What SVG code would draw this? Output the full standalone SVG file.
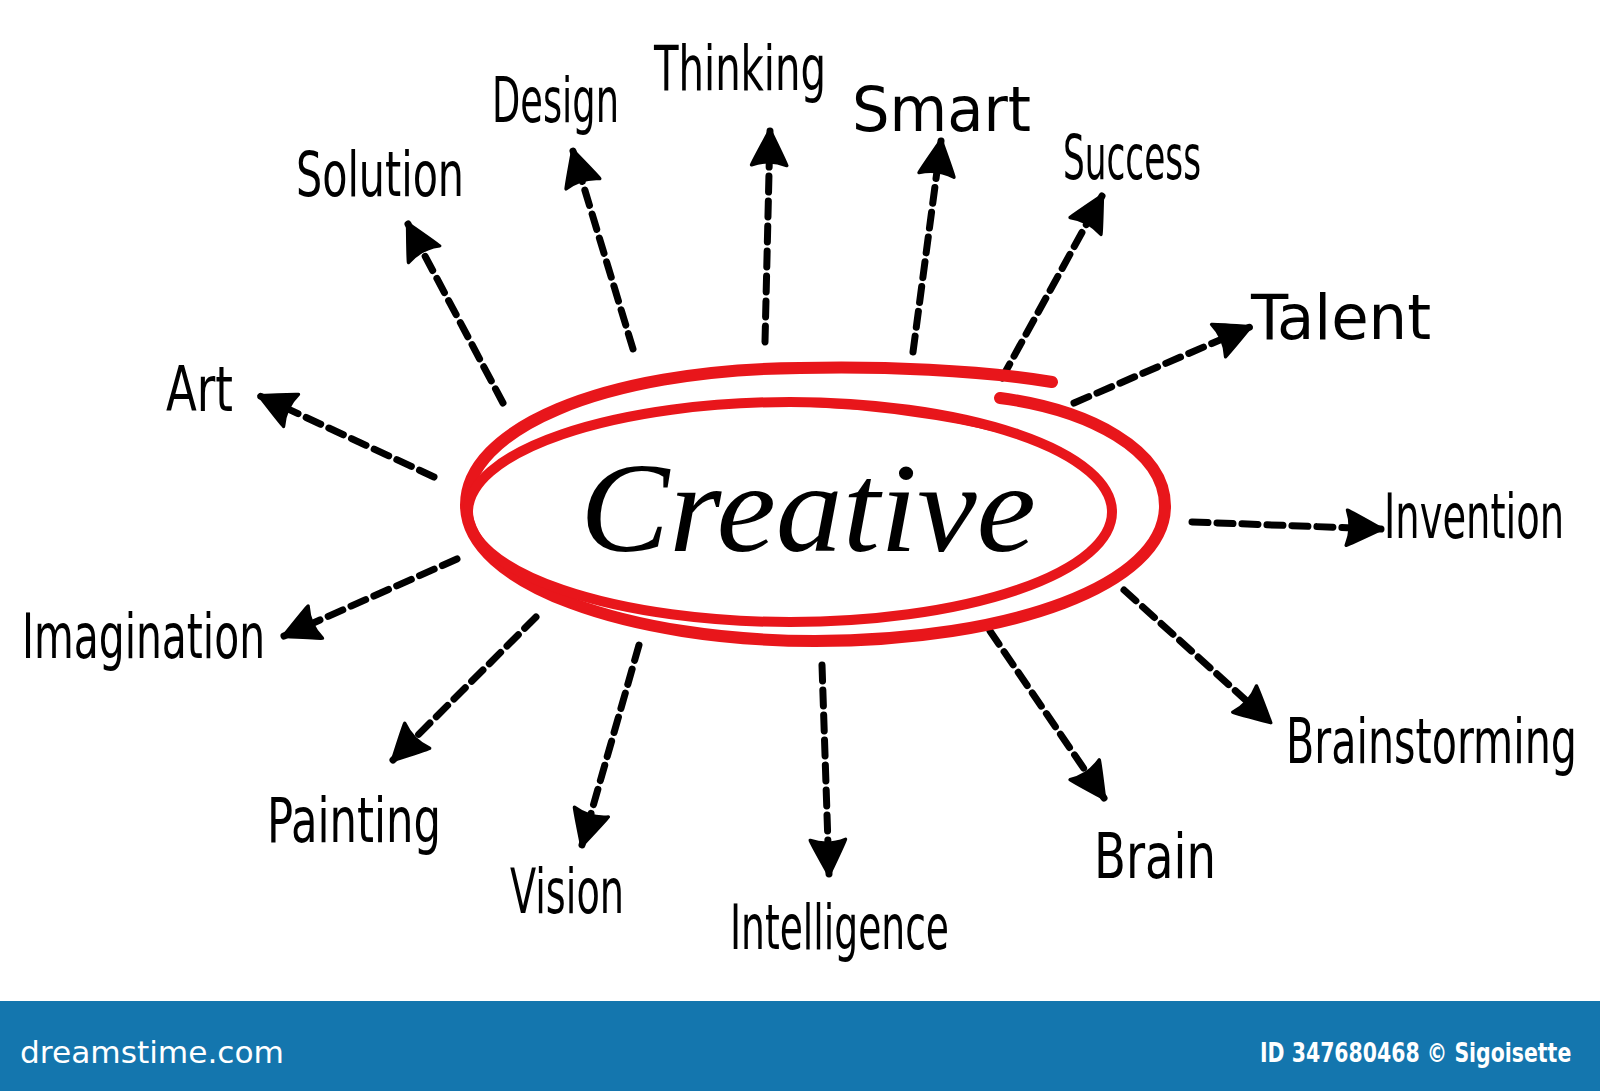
<svg xmlns="http://www.w3.org/2000/svg" width="1600" height="1091" viewBox="0 0 1600 1091">
<defs>
<marker id="ah" markerUnits="userSpaceOnUse" markerWidth="42" markerHeight="42" viewBox="-3 -19 38 38" refX="31" refY="0" orient="auto">
<path d="M0,-16 Q3,-15 32,0 Q3,15 0,16 Q6,0 0,-16 Z" fill="#000" stroke="#000" stroke-width="3" stroke-linejoin="round"/>
</marker>
</defs>
<style>
.lbl{font-family:"Liberation Sans Narrow","DejaVu Sans Condensed","Liberation Sans",sans-serif;font-size:62px;fill:#000}
.con{fill:none;stroke:#000;stroke-width:7;stroke-dasharray:16 9;stroke-linecap:round;marker-end:url(#ah)}
.ring{fill:none;stroke:#E8161B;stroke-linecap:round}
.bar{fill:#fff}
</style>
<rect width="1600" height="1091" fill="#fff"/>

<g id="connectors">
<line class="con" x1="503" y1="403" x2="408" y2="224"/>
<line class="con" x1="633" y1="349" x2="573" y2="151"/>
<line class="con" x1="765" y1="342" x2="770" y2="131"/>
<line class="con" x1="913" y1="352" x2="941" y2="141"/>
<line class="con" x1="1002" y1="378" x2="1102" y2="196"/>
<line class="con" x1="1074" y1="403" x2="1250" y2="327"/>
<line class="con" x1="1192" y1="522" x2="1381" y2="529"/>
<line class="con" x1="1124" y1="590" x2="1270" y2="722"/>
<line class="con" x1="990" y1="631" x2="1104" y2="798"/>
<line class="con" x1="822" y1="665" x2="829" y2="874"/>
<line class="con" x1="639" y1="645" x2="582" y2="845"/>
<line class="con" x1="536" y1="617" x2="393" y2="760"/>
<line class="con" x1="457" y1="559" x2="284" y2="636"/>
<line class="con" x1="434" y1="477" x2="260" y2="396"/>
</g>

<g id="creative">
<path class="ring" stroke-width="12" d="M1052,382 C980,370 880,366 800,368 C600,370 466,430 466,505 C466,585 630,641 815,641 C1010,641 1165,585 1165,506 C1165,450 1090,410 1000,398"/>
<ellipse class="ring" cx="790" cy="512" rx="322" ry="110" stroke-width="10"/>
<path class="ring" stroke-width="4" d="M700,405 C860,398 1040,425 1090,470"/>
<text x="580" y="551" font-family="'Liberation Serif','DejaVu Serif',serif" font-style="italic" font-size="128" textLength="456" lengthAdjust="spacingAndGlyphs" fill="#000">Creative</text>
</g>

<g id="node-solution"><text class="lbl" x="296" y="196" textLength="168" lengthAdjust="spacingAndGlyphs">Solution</text></g>
<g id="node-design"><text class="lbl" x="492" y="122" textLength="127" lengthAdjust="spacingAndGlyphs">Design</text></g>
<g id="node-thinking"><text class="lbl" transform="translate(654,90) scale(0.8,1)" textLength="215" lengthAdjust="spacingAndGlyphs">Thinking</text></g>
<g id="node-smart"><text class="lbl" x="852" y="131" textLength="179" lengthAdjust="spacingAndGlyphs">Smart</text></g>
<g id="node-success"><text class="lbl" x="1063" y="179" textLength="138" lengthAdjust="spacingAndGlyphs">Success</text></g>
<g id="node-talent"><text class="lbl" x="1251" y="339" textLength="180" lengthAdjust="spacingAndGlyphs">Talent</text></g>
<g id="node-invention"><text class="lbl" transform="translate(1384,538) scale(0.8,1)" font-size="58" textLength="225" lengthAdjust="spacingAndGlyphs">Invention</text></g>
<g id="node-brainstorming"><text class="lbl" transform="translate(1286,763) scale(0.75,1)" font-size="58" textLength="388" lengthAdjust="spacingAndGlyphs">Brainstorming</text></g>
<g id="node-brain"><text class="lbl" x="1094" y="878" textLength="122" lengthAdjust="spacingAndGlyphs">Brain</text></g>
<g id="node-intelligence"><text class="lbl" x="730" y="949" textLength="219" lengthAdjust="spacingAndGlyphs">Intelligence</text></g>
<g id="node-vision"><text class="lbl" x="510" y="913" textLength="114" lengthAdjust="spacingAndGlyphs">Vision</text></g>
<g id="node-painting"><text class="lbl" x="267" y="842" textLength="174" lengthAdjust="spacingAndGlyphs">Painting</text></g>
<g id="node-imagination"><text class="lbl" x="22" y="658" textLength="243" lengthAdjust="spacingAndGlyphs">Imagination</text></g>
<g id="node-art"><text class="lbl" x="166" y="411" textLength="67" lengthAdjust="spacingAndGlyphs">Art</text></g>

<g id="footer">
<rect x="0" y="1001" width="1600" height="90" fill="#1476AE"/>
<text class="bar" x="20" y="1063" font-family="'DejaVu Sans','Liberation Sans',sans-serif" font-size="31" textLength="264" lengthAdjust="spacingAndGlyphs">dreamstime.com</text>
<text class="bar" transform="translate(1260,1062) scale(0.75,1)" font-family="'DejaVu Sans Condensed','Liberation Sans',sans-serif" font-size="27" font-weight="bold" textLength="415" lengthAdjust="spacingAndGlyphs">ID 347680468 © Sigoisette</text>
</g>
</svg>
